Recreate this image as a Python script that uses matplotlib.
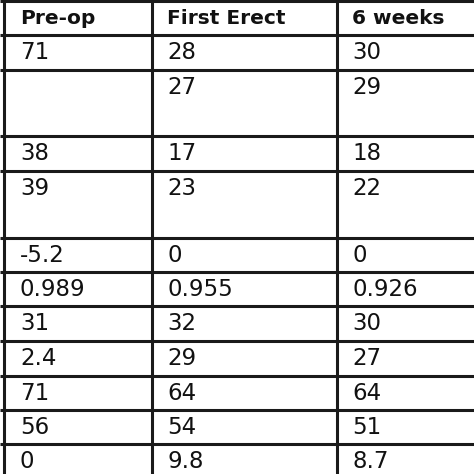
import matplotlib.pyplot as plt

# table contents
headers = ["Pre-op", "First Erect", "6 weeks"]
pre_op = ["71", "", "38", "39", "-5.2", "0.989", "31", "2.4", "71", "56", "0"]
first_erect = ["28", "27", "17", "23", "0", "0.955", "32", "29", "64", "54", "9.8"]
six_weeks = ["30", "29", "18", "22", "0", "0.926", "30", "27", "64", "51", "8.7"]

# layout in pixels (image 474x474, origin top-left)
row_lines = [1, 35, 70, 136, 171, 238, 272, 306, 341, 376, 410, 444, 480]
col_lines = [4.5, 152, 337, 480]

fig = plt.figure(figsize=(4.74, 4.74), dpi=100)
ax = fig.add_axes([0, 0, 1, 1])
ax.set_xlim(0, 474)
ax.set_ylim(474, 0)
ax.axis("off")

for y in row_lines:
    ax.plot([0, 474], [y, y], color="#1a1a1a", linewidth=2.2, solid_capstyle="butt")
for x in col_lines:
    ax.plot([x, x], [0, 474], color="#1a1a1a", linewidth=2.2, solid_capstyle="butt")

columns = [pre_op, first_erect, six_weeks]
for c, (head, values) in enumerate(zip(headers, columns)):
    x = col_lines[c] + 15.5
    ax.text(x, row_lines[0] + 17, head, fontsize=14.5, fontweight="bold",
            family="DejaVu Sans", va="center", ha="left", color="#111111")
    for r, val in enumerate(values):
        ax.text(x, row_lines[r + 1] + 17.5, val, fontsize=16.5, family="DejaVu Sans",
                va="center", ha="left", color="#111111")

fig.savefig("out.png", dpi=100)
